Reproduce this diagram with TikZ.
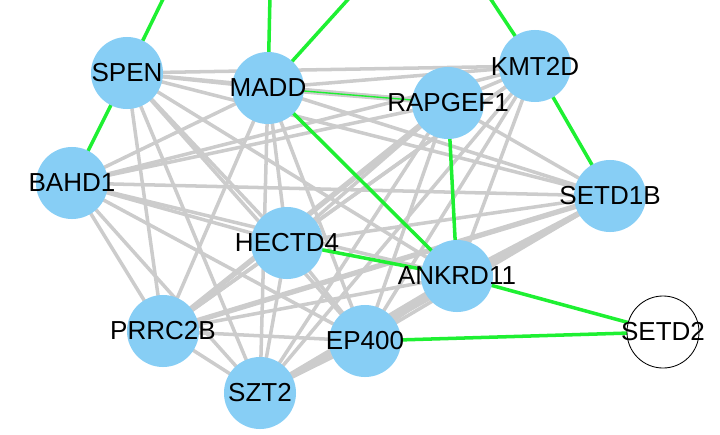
\documentclass[tikz,border=0pt]{standalone}
\usepackage{fontspec}
\setmainfont{Liberation Sans}
\definecolor{gr}{RGB}{30,240,50}
\definecolor{bl}{RGB}{135,206,245}
\begin{document}
\begin{tikzpicture}[x=0.025cm,y=-0.025cm,
  gene/.style={circle,fill=bl,draw=none,minimum size=1.8cm,inner sep=0pt},
  lbl/.style={inner sep=0pt,font=\fontsize{18.5}{20}\selectfont},
  grey/.style={draw=black!20,line width=2.5pt},
  greyb/.style={draw=black!20,line width=3.8pt},
  grn/.style={draw=gr,line width=2.5pt}]
\useasboundingbox (0,0) rectangle (720,434);
\foreach \n/\x/\y in {SPEN/127/73,MADD/268/88,KMT2D/535/66,RAPGEF1/448/103,BAHD1/72/183,SETD1B/610/196,HECTD4/287/243,ANKRD11/457/276,SETD2/663/332,PRRC2B/163/331,EP400/365/341,SZT2/260/393}
  \coordinate (\n) at (\x,\y);
\coordinate (t1) at (165,-5); \coordinate (t2) at (270,-5);
\coordinate (t3) at (352,-5); \coordinate (t4) at (488,-5);
% grey edges
\foreach \a/\b in {SPEN/MADD,SPEN/KMT2D,SPEN/RAPGEF1,SPEN/SETD1B,SPEN/HECTD4,SPEN/ANKRD11,SPEN/PRRC2B,SPEN/EP400,SPEN/SZT2,
 MADD/KMT2D,MADD/BAHD1,MADD/SETD1B,MADD/HECTD4,MADD/PRRC2B,MADD/EP400,MADD/SZT2,
 KMT2D/RAPGEF1,KMT2D/BAHD1,KMT2D/HECTD4,KMT2D/ANKRD11,KMT2D/PRRC2B,KMT2D/EP400,KMT2D/SZT2,
 RAPGEF1/BAHD1,RAPGEF1/SETD1B,RAPGEF1/HECTD4,RAPGEF1/EP400,RAPGEF1/SZT2,
 BAHD1/SETD1B,BAHD1/HECTD4,BAHD1/ANKRD11,BAHD1/PRRC2B,BAHD1/EP400,BAHD1/SZT2,
 SETD1B/HECTD4,SETD1B/ANKRD11,SETD1B/EP400,
 HECTD4/PRRC2B,HECTD4/EP400,HECTD4/SZT2,
 ANKRD11/PRRC2B,ANKRD11/EP400,PRRC2B/EP400,PRRC2B/SZT2,EP400/SZT2}
  \draw[grey] (\a) -- (\b);
\foreach \a/\b in {RAPGEF1/PRRC2B,SETD1B/SZT2,SETD1B/PRRC2B,ANKRD11/SZT2,MADD/RAPGEF1}
  \draw[greyb] (\a) -- (\b);
% green edges
\draw[grn] (SPEN) -- (t1); \draw[grn] (MADD) -- (t2); \draw[grn] (MADD) -- (t3); \draw[grn] (KMT2D) -- (t4);
\foreach \a/\b in {SPEN/BAHD1,MADD/ANKRD11,RAPGEF1/ANKRD11,KMT2D/SETD1B,HECTD4/ANKRD11,ANKRD11/SETD2,EP400/SETD2}
  \draw[grn] (\a) -- (\b);
\draw[gr,line width=1pt] (MADD) -- (RAPGEF1);
\foreach \n in {SPEN,MADD,KMT2D,RAPGEF1,BAHD1,SETD1B,HECTD4,ANKRD11,PRRC2B,EP400,SZT2}
  \node[gene] (n\n) at (\n) {};
\node[gene,fill=white,draw=black,line width=0.6pt] (nSETD2) at (SETD2) {};
\foreach \n in {SPEN,MADD,KMT2D,RAPGEF1,BAHD1,SETD1B,HECTD4,ANKRD11,PRRC2B,EP400,SZT2,SETD2}
  \node[lbl] (l\n) at (\n) {\n};
\end{tikzpicture}
\end{document}
